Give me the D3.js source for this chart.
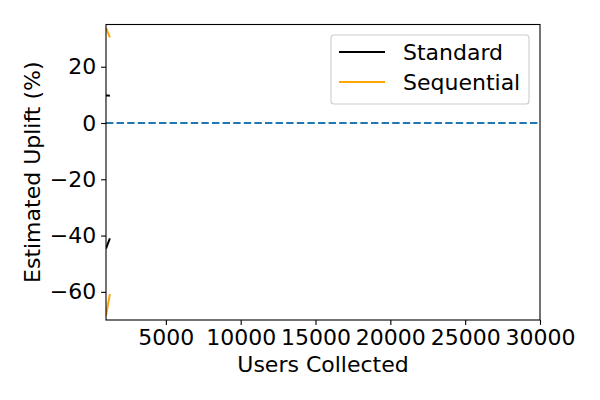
<!DOCTYPE html>
<html>
<head>
<meta charset="utf-8">
<script src="https://cdn.jsdelivr.net/npm/d3@7"></script>
<style>
  html, body { margin: 0; padding: 0; background: #fff; }
  svg { display: block; font-family: "DejaVu Sans", sans-serif; }
</style>
</head>
<body>
<svg id="chart" width="600" height="400"></svg>
<script>
// ---- data ----
const users = [1000, 1130, 1260];
const standardUpper = [9.8, 9.8, 9.7];
const standardLower = [-44.6, -42.8, -41.0];
const sequentialUpper = [33.8, 32.1, 30.4];
const sequentialLower = [-68.5, -64.5, -60.8];
const xTicks = [5000, 10000, 15000, 20000, 25000, 30000];
const yTicks = [20, 0, -20, -40, -60];
const seriesNames = ["Standard", "Sequential"];
const seriesColors = ["#000000", "#ffa500"];

(function () {
const FS = "22px";
const svg = d3.select("#chart");
const pL = 106, pR = 540, pT = 24.5, pB = 320;

const x = d3.scaleLinear().domain([1000, 30000]).range([pL, pR]);
const y = d3.scaleLinear().domain([-70, 35]).range([pB, pT]);

svg.append("defs").append("clipPath").attr("id", "clip")
  .append("rect").attr("x", pL).attr("y", pT)
  .attr("width", pR - pL).attr("height", pB - pT);

const plot = svg.append("g").attr("clip-path", "url(#clip)");

const line = d3.line().x(d => x(d[0])).y(d => y(d[1]));
const series = [
  { vals: standardUpper, color: seriesColors[0] },
  { vals: standardLower, color: seriesColors[0] },
  { vals: sequentialUpper, color: seriesColors[1] },
  { vals: sequentialLower, color: seriesColors[1] }
];
series.forEach(s => {
  plot.append("path")
    .attr("d", line(users.map((u, i) => [u, s.vals[i]])))
    .attr("fill", "none").attr("stroke", s.color).attr("stroke-width", 2);
});

// zero reference line
plot.append("line")
  .attr("x1", pL).attr("x2", pR)
  .attr("y1", y(0)).attr("y2", y(0))
  .attr("stroke", "#1f77b4").attr("stroke-width", 2)
  .attr("stroke-dasharray", "7.4,3.2");

// axes
const xAxis = svg.append("g").attr("transform", `translate(0,${pB})`)
  .call(d3.axisBottom(x).tickValues(xTicks).tickFormat(d3.format("d")).tickSize(4.9).tickPadding(4.9));
const yAxis = svg.append("g").attr("transform", `translate(${pL},0)`)
  .call(d3.axisLeft(y).tickValues(yTicks).tickFormat(d => d < 0 ? "\u2212" + Math.abs(d) : d).tickSize(4.9).tickPadding(4.9));
[xAxis, yAxis].forEach(a => {
  a.select(".domain").remove();
  a.selectAll(".tick line").attr("stroke", "#000").attr("stroke-width", 1.1);
  a.selectAll(".tick text").attr("font-size", FS).attr("fill", "#000")
    .attr("font-family", "DejaVu Sans");
});

// frame
svg.append("rect").attr("x", pL).attr("y", pT)
  .attr("width", pR - pL).attr("height", pB - pT)
  .attr("fill", "none").attr("stroke", "#000").attr("stroke-width", 1.1);

// axis labels
svg.append("text").attr("x", (pL + pR) / 2).attr("y", 372)
  .attr("text-anchor", "middle").attr("font-size", FS).text("Users Collected");
svg.append("text")
  .attr("transform", `translate(39.5,${(pT + pB) / 2}) rotate(-90)`)
  .attr("text-anchor", "middle").attr("font-size", FS).text("Estimated Uplift (%)");

// legend
const lg = svg.append("g");
lg.append("rect").attr("x", 331).attr("y", 35).attr("width", 198).attr("height", 69)
  .attr("rx", 3).attr("fill", "#fff").attr("fill-opacity", 0.8)
  .attr("stroke", "#cccccc").attr("stroke-width", 1.1);
seriesNames.forEach((n, i) => {
  const yy = 52 + i * 30;
  lg.append("line").attr("x1", 339).attr("x2", 385).attr("y1", yy).attr("y2", yy)
    .attr("stroke", seriesColors[i]).attr("stroke-width", 2);
  lg.append("text").attr("x", 403).attr("y", yy + 8.3).attr("font-size", FS).text(n);
});
})();
</script>
</body>
</html>
